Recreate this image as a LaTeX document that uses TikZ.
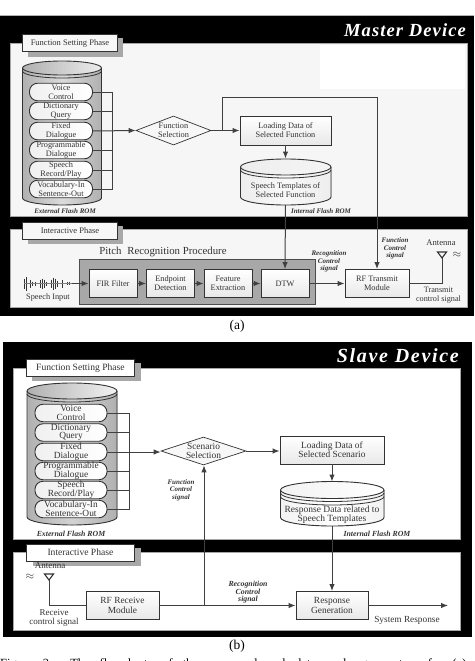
\documentclass[tikz,border=0pt]{standalone}
\usepackage{fontspec}
\setmainfont{Liberation Serif}
\newfontfamily\mtitlefont[LetterSpace=6]{Liberation Serif}
\newfontfamily\stitlefont[LetterSpace=8.5]{Liberation Serif}
\usetikzlibrary{shapes.geometric,arrows.meta}
\definecolor{panelfill}{gray}{0.965}
\definecolor{ink}{gray}{0.2}
\definecolor{linec}{gray}{0.25}
\definecolor{shadowc}{gray}{0.66}
\tikzset{
  tx/.style={text=ink,font=\fontsize{8.3}{9.2}\selectfont,align=center,inner sep=0pt},
  txs/.style={tx,font=\fontsize{9.5}{9.4}\selectfont},
  capt/.style={text=ink,font=\bfseries\itshape\fontsize{7}{7.5}\selectfont,align=center,inner sep=0pt},
  capts/.style={capt,font=\bfseries\itshape\fontsize{7.8}{7.5}\selectfont},
  titlem/.style={text=white,font=\mtitlefont\bfseries\itshape\fontsize{18.5}{20}\selectfont,inner sep=0pt},
  titles/.style={text=white,font=\stitlefont\bfseries\itshape\fontsize{20}{20}\selectfont,inner sep=0pt},
  panel/.style={fill=panelfill,draw=gray!70,line width=0.5pt},
  tabbox/.style={fill=white!97!black,draw=ink,line width=0.9pt,inner sep=0pt,text=ink,font=\fontsize{8.5}{9}\selectfont},
  tabboxs/.style={tabbox,fill=white,font=\fontsize{9.6}{9}\selectfont},
  tabshadow/.style={fill=shadowc},
  procbox/.style={draw=ink,line width=0.9pt,top color=white,bottom color=gray!18,inner sep=0pt,text=ink,align=center,font=\fontsize{8.3}{9.2}\selectfont},
  procboxs/.style={procbox,font=\fontsize{9.4}{9.2}\selectfont},
  pill/.style={draw=ink,line width=0.9pt,rounded corners=8pt,left color=gray!12,right color=white,inner sep=0pt,text=ink,align=center,font=\fontsize{8.3}{8.7}\selectfont},
  pills/.style={pill,font=\fontsize{9.4}{8.7}\selectfont},
  choice/.style={diamond,draw=ink,line width=0.7pt,fill=gray!6,inner sep=0pt,text=ink,align=center,font=\fontsize{8.3}{9.2}\selectfont},
  choices/.style={choice,font=\fontsize{9.4}{9.2}\selectfont},
  conn/.style={draw=linec,line width=1pt},
  arr/.style={conn,-{Latex[length=7pt,width=5.5pt]}},
  figlab/.style={font=\fontsize{13.5}{12}\selectfont,inner sep=0pt,text=black},
}
% cylinder: x1, x2, ytop(ellipse centre), ybottom(ellipse centre), ry, edge colour, middle colour, lid colour
\newcommand{\drumshape}[8]{%
  \pgfmathsetmacro{\rx}{(#2-#1)/2}%
  \fill[left color=#6,right color=#6,middle color=#7] (#1,#3) -- (#1,#4) arc[start angle=180,end angle=360,x radius=\rx,y radius=-#5] -- (#2,#3) -- cycle;
  \draw[ink,line width=0.9pt] (#1,#3) -- (#1,#4) arc[start angle=180,end angle=360,x radius=\rx,y radius=-#5] -- (#2,#3);
  \draw[ink,line width=0.9pt,left color=#6,right color=#8] (#1,#3) arc[start angle=180,end angle=-180,x radius=\rx,y radius=#5];
  \draw[ink,line width=0.8pt] (#1,#3+3) arc[start angle=180,end angle=360,x radius=\rx,y radius=-#5];
}
\begin{document}
\begin{tikzpicture}[x=1pt,y=-1pt]
\useasboundingbox (0,0) rectangle (474,661);
\fill[white] (0,0) rectangle (474,661);
\begin{scope}
\clip (0,0) rectangle (474,661);
\node[figlab,anchor=base west] (topfrag) at (21,-6) {p};
\node[figlab,anchor=base west,font=\fontsize{12.5}{12}\selectfont] (bottomcap) at (0,667) {\makebox[466pt][s]{Figure 2: The flowcharts of the command and data exchange system for (a)}};
\end{scope}

%% ================= MASTER =================
\fill[black] (0,15.5) rectangle (474,315.5);
\draw[gray!60,line width=0.6pt] (0,15.5) -- (474,15.5);
\node[titlem,anchor=east] (mtitle) at (466,30.5) {Master Device};
\path[panel] (10,43) rectangle (467,216.5);
\path[panel] (10,229) rectangle (467,307);
\fill[white] (320,45) rectangle (465,89);
% tabs
\fill[tabshadow] (28,38) rectangle (123,57);
\node[tabbox,minimum width=95,minimum height=17,anchor=north west] (mtab1) at (22,34.5) {Function Setting Phase};
\fill[tabshadow] (28,226) rectangle (123,243.5);
\node[tabbox,minimum width=95,minimum height=17,anchor=north west] (mtab2) at (22,221.5) {Interactive Phase};
% external ROM
\drumshape{22.5}{101.5}{68}{198}{7}{gray!62}{gray!28}{gray!15}
\foreach \n/\yy/\t in {1/92/{Voice\\Control},2/111/{Dictionary\\Query},3/131/{Fixed\\Dialogue},4/150/{Programmable\\Dialogue},5/170/{Speech\\Record/Play},6/189/{Vocabulary-In\\Sentence-Out}}
  \node[pill,minimum width=63,minimum height=17.5] (mp\n) at (61,\yy) {\t};
\coordinate (mbus) at (112,131);
\node[choice,minimum width=75,minimum height=29,aspect=2.6] (mdia) at (173.5,130.5) {Function\\Selection};
\node[procbox,minimum width=91,minimum height=29] (mload) at (285.5,130.5) {Loading Data of\\Selected Function};
% internal ROM
\drumshape{240.5}{331}{167}{197}{8}{gray!14}{gray!5}{gray!8}
\node[tx] (mtpl) at (285.5,190.5) {Speech Templates of\\Selected Function};
\coordinate (mcylTop) at (285.5,158.5);
\coordinate (mcylBot) at (285.5,205);
\node[capt] (mc1) at (65,211.5) {External Flash ROM};
\node[capt] (mc2) at (321,211.5) {Internal Flash ROM};
% procedure
\node[text=ink,font=\fontsize{10.8}{10}\selectfont,inner sep=0pt] (mpitch) at (163,251.5) {Pitch\; Recognition Procedure};
\fill[shadowc] (79,259) rectangle (315,304.5);
\draw[gray!60!black,line width=0.6pt] (79,259) rectangle (315,304.5);
\node[procbox,minimum width=48,minimum height=28] (mfir) at (113,283.5) {FIR Filter};
\node[procbox,minimum width=48,minimum height=28] (mend) at (170.5,283.5) {Endpoint\\Detection};
\node[procbox,minimum width=48,minimum height=28] (mfea) at (228,283.5) {Feature\\Extraction};
\node[procbox,minimum width=48,minimum height=28] (mdtw) at (285,283.5) {DTW};
\node[procbox,minimum width=64,minimum height=28] (mrf) at (377,283.5) {RF Transmit\\Module};
% waveform
\coordinate (mwave) at (72,283.5);
\foreach \xx/\h in {24.5/5,26/7,30/4,32/2,35/2,40/4,42/5,44/4,46/2,51/4,53/6,55/5,57/3,62/4,67/1.5,69/1.5}
  \draw[ink,line width=0.8pt] (\xx,283.5-\h) -- (\xx,283.5+\h);
\draw[gray,line width=0.7pt] (24,283.5) -- (mwave);
\node[tx] (mspeech) at (48,298) {Speech Input};
\node[capt] (mrcs) at (329,261.5) {Recognition\\Control\\signal};
\node[capt] (mfcs) at (395,248.5) {Function\\Control\\signal};
\node[tx,font=\fontsize{8.6}{9}\selectfont] (mant) at (441,243) {Antenna};
\node[tx,font=\fontsize{11}{9}\selectfont] (mapx) at (457,255) {$\approx$};
\coordinate (mantTip) at (442,258);
\draw[ink,line width=1.1pt] (437.5,252) -- (446.5,252) -- (mantTip) -- cycle;
\node[tx,font=\fontsize{8.2}{9}\selectfont] (mtcs) at (438.5,295.5) {Transmit\\control signal};
% connectors
\draw[conn] (mp1.east) -| (mbus);
\draw[conn] (mp6.east) -| (mbus);
\foreach \n in {2,4,5} \draw[conn] (mp\n.east) -- (mp\n.east -| mbus);
\draw[arr] (mp3.east) -- (mdia.west);
\draw[arr] (mdia.east) -- (mload.west);
\coordinate (mjoin) at (222,130.5);
\coordinate (mover) at (222,97.5);
\draw[arr] (mjoin) -- (mover) -| (mrf.north);
\draw[arr] (mload.south) -- (mcylTop);
\draw[arr] (mcylBot) -- (mdtw.north);
\draw[arr] (mwave) -- (mfir.west);
\draw[arr] (mfir) -- (mend);
\draw[arr] (mend) -- (mfea);
\draw[arr] (mfea) -- (mdtw);
\draw[arr] (mdtw) -- (mrf);
\draw[conn] (mrf.east) -| (mantTip);
\node[figlab] (la) at (237,326.5) {(a)};

%% ================= SLAVE =================
\fill[black] (3,341.5) rectangle (472,637);
\node[titles,anchor=east] (stitle) at (459,356) {Slave Device};
\path[panel,fill=white] (13,368) rectangle (460,539);
\path[panel,fill=white] (13,552) rectangle (460,630);
\fill[tabshadow] (32,363) rectangle (140.5,381);
\node[tabboxs,minimum width=108,minimum height=17,anchor=north west] (stab1) at (26,359) {Function Setting Phase};
\fill[tabshadow] (33,548) rectangle (140.5,566);
\node[tabboxs,minimum width=108,minimum height=17.5,anchor=north west] (stab2) at (26,543.5) {Interactive Phase};
\drumshape{27}{117}{391}{517}{8}{gray!62}{gray!35}{gray!10}
\foreach \n/\yy/\t in {1/413/{Voice\\Control},2/432.5/{Dictionary\\Query},3/452/{Fixed\\Dialogue},4/471/{Programmable\\Dialogue},5/490/{Speech\\Record/Play},6/509/{Vocabulary-In\\Sentence-Out}}
  \node[pills,minimum width=72,minimum height=17.5] (sp\n) at (71,\yy) {\t};
\coordinate (sbus) at (129,451);
\node[choices,minimum width=85,minimum height=28,aspect=3] (sdia) at (203.5,451) {Scenario\\Selection};
\node[procboxs,minimum width=104,minimum height=28] (sload) at (332,450) {Loading Data of\\Selected Scenario};
\drumshape{280.5}{384}{490}{517.5}{8.5}{gray!10}{white}{white}
\draw[ink,line width=0.8pt] (280.5,496.5) arc[start angle=180,end angle=360,x radius=51.75,y radius=-8.5];
\node[txs,font=\fontsize{9.5}{9.2}\selectfont] (stpl) at (332,514.5) {Response Data related to\\Speech Templates};
\coordinate (scylTop) at (332,481.5);
\coordinate (scylBot) at (332,526);
\node[capts] (sc1) at (71,533.5) {External Flash ROM};
\node[capts] (sc2) at (377,533.5) {Internal Flash ROM};
\node[capt] (sfcs) at (181,490) {Function\\Control\\signal};
\node[capts] (srcs) at (248,592.5) {Recognition\\Control\\signal};
\node[procboxs,minimum width=73,minimum height=28] (srf) at (122.5,605.5) {RF Receive\\Module};
\node[procboxs,minimum width=72,minimum height=28] (sresp) at (332,605.5) {Response\\Generation};
\node[tx,font=\fontsize{9}{9}\selectfont] (sant) at (50,565.5) {Antenna};
\node[tx,font=\fontsize{11}{9}\selectfont] (sapx) at (30,577) {$\approx$};
\coordinate (santTip) at (49,580);
\draw[ink,line width=1.1pt] (44.5,574) -- (53.5,574) -- (santTip) -- cycle;
\node[tx,font=\fontsize{9}{9}\selectfont] (srcv) at (54,617.5) {Receive\\control signal};
\node[tx,font=\fontsize{9.3}{9}\selectfont] (ssys) at (407,620.5) {System Response};
\coordinate (sout) at (448,605.5);
\coordinate (sjoin) at (204,605.5);
\draw[conn] (sp1.east) -| (sbus);
\draw[conn] (sp6.east) -| (sbus);
\foreach \n in {2,4,5} \draw[conn] (sp\n.east) -- (sp\n.east -| sbus);
\draw[arr] (sp3.east) -- (sp3.east -| sdia.west);
\draw[arr] (sdia.east) -- (sload.west |- sdia.east);
\draw[arr] (sload.south) -- (scylTop);
\draw[arr] (scylBot) -- (sresp.north);
\draw[arr] (srf.east) -- (sresp.west);
\draw[arr] (sresp.east) -- (sout);
\draw[arr] (sjoin) -- (sdia.south -| sjoin);
\draw[conn] (srf.west) -| (santTip);
\node[figlab] (lb) at (237,646.5) {(b)};
\end{tikzpicture}
\end{document}
